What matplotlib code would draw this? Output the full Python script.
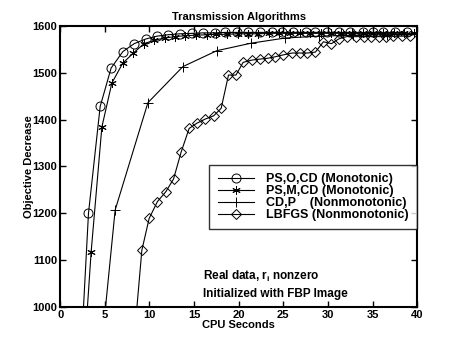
import matplotlib
matplotlib.use("Agg")
import matplotlib.pyplot as plt

plt.rcParams['font.family'] = ['Liberation Sans', 'DejaVu Sans']
plt.rcParams['font.weight'] = 'bold'

# PS,O,CD (Monotonic)
ps_o_x = [1.9, 3.17, 4.48, 5.71, 7.02, 8.29, 9.6, 10.83, 12.1, 13.4, 14.8, 16.0, 17.4, 18.5,
          19.8, 21.1, 22.4, 23.7, 24.9, 26.1, 27.5, 28.6, 29.9, 31.2, 32.5, 33.9, 35.0, 36.2,
          37.5, 38.9]
ps_o_y = [745, 1200, 1428, 1510, 1545, 1562, 1572, 1578, 1581, 1583, 1584, 1585, 1585, 1586,
          1586, 1586, 1586, 1586, 1586, 1586, 1586, 1586, 1586, 1586, 1586, 1586, 1586, 1586,
          1586, 1586]

# PS,M,CD (Monotonic)
ps_m_x = [2.3, 3.47, 4.67, 5.79, 7.0, 8.2, 9.4, 10.5, 11.7, 12.9, 14.0, 15.2, 16.4, 17.5,
          18.7, 19.9, 21.0, 22.2, 23.4, 24.5, 25.7, 26.9, 28.0, 29.2, 30.4, 31.5, 32.7, 33.9,
          35.0, 36.2, 37.4, 38.5, 39.7]
ps_m_y = [787, 1118, 1384, 1478, 1520, 1542, 1562, 1569, 1574, 1577, 1579, 1580, 1581, 1582,
          1582, 1583, 1583, 1583, 1584, 1584, 1584, 1584, 1584, 1584, 1584, 1584, 1584, 1584,
          1584, 1584, 1584, 1584, 1584]

# CD,P (Nonmonotonic)
cdp_x = [2.36, 6.16, 9.83, 13.75, 17.56, 21.4, 25.2, 29.0, 32.8, 36.6, 40.4]
cdp_y = [477, 1207, 1436, 1513, 1547, 1563, 1574, 1578, 1580, 1581, 1582]

# LBFGS (Nonmonotonic)
lbfgs_x = [8.3, 9.15, 9.97, 10.9, 11.84, 12.7, 13.56, 14.45, 15.3, 16.25, 17.2, 18.04, 18.86,
           19.7, 20.5, 21.5, 22.4, 23.3, 24.1, 25.0, 26.0, 26.9, 27.7, 28.6, 29.5, 30.4, 31.2,
           32.1, 33.1, 34.0, 34.8, 35.7, 36.5, 37.3, 38.3, 39.2]
lbfgs_y = [934, 1121, 1189, 1225, 1246, 1273, 1331, 1381, 1392, 1401, 1408, 1424, 1495,
           1495, 1522, 1527, 1529, 1531, 1534, 1538, 1542, 1542, 1542, 1544, 1566, 1562, 1572,
           1577, 1577, 1577, 1577, 1577, 1577, 1578, 1578, 1578]

fig = plt.figure(figsize=(4.74, 3.59), dpi=100)
ax = fig.add_axes([0.127, 0.145, 0.753, 0.783])

kw = dict(color='black', linewidth=0.8, markerfacecolor='none', markeredgecolor='black',
          markeredgewidth=0.7)
ax.plot(ps_o_x, ps_o_y, marker='o', markersize=6.5, label='PS,O,CD (Monotonic)', **kw)
ax.plot(ps_m_x, ps_m_y, marker=(6, 2, 0), markersize=6, label='PS,M,CD (Monotonic)', **kw)
ax.plot(cdp_x, cdp_y, marker='+', markersize=7, label='CD,P    (Nonmonotonic)', **kw)
ax.plot(lbfgs_x, lbfgs_y, marker='D', markersize=5.5, label='LBFGS (Nonmonotonic)', **kw)

ax.set_xlim(0, 40)
ax.set_ylim(1000, 1600)
ax.set_xticks(range(0, 41, 5))
ax.set_yticks(range(1000, 1601, 100))
ax.tick_params(direction='in', top=True, right=True, length=4, width=1, labelsize=8, pad=2)
for s in ax.spines.values():
    s.set_linewidth(1.5)

ax.set_title('Transmission Algorithms', fontsize=8, fontweight='bold', pad=4)
ax.set_xlabel('CPU Seconds', fontsize=8, fontweight='bold', labelpad=0)
ax.set_ylabel('Objective Decrease', fontsize=8, fontweight='bold', labelpad=-1)

leg = ax.legend(loc='upper right', bbox_to_anchor=(1.0, 0.505), fontsize=9, frameon=True,
                fancybox=False, edgecolor='black', handlelength=2.9, borderpad=0.65,
                labelspacing=0.0, handletextpad=1.0, borderaxespad=0)
leg.get_frame().set_linewidth(1.0)

ax.text(16.0, 1066, 'Real data, r$_\\mathregular{i}$ nonzero', fontsize=8.5, fontweight='bold',
        va='center', ha='left')
ax.text(16.0, 1027, 'Initialized with FBP Image', fontsize=8.5, fontweight='bold',
        va='center', ha='left')

fig.savefig('out.png', dpi=100)
